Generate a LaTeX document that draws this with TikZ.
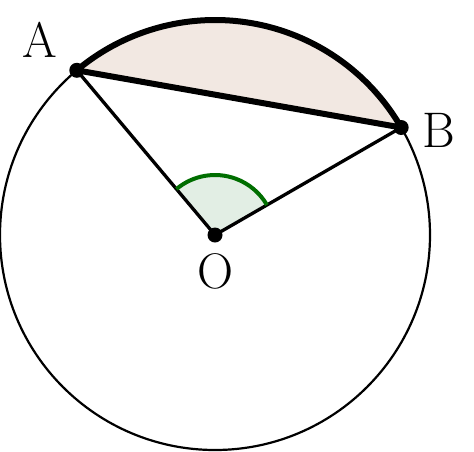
\documentclass[tikz,border=0pt]{standalone}
\usetikzlibrary{calc}
\definecolor{segfill}{RGB}{242,232,226}
\definecolor{secfill}{RGB}{226,238,228}
\definecolor{arcgreen}{RGB}{0,110,0}
\begin{document}
\begin{tikzpicture}[x=1pt,y=-1pt,
  dot/.style={circle,fill=black,inner sep=0pt,minimum size=15pt},
  lab/.style={font=\fontsize{50}{56}\selectfont}]
\useasboundingbox (0,0) rectangle (474,451);
\coordinate (O) at (215,235);
\def\R{215}
\coordinate (A) at ($(O)+(130:\R pt)$);
\coordinate (B) at ($(O)+(30:\R pt)$);
% segment fill
\fill[segfill] (A) arc[start angle=130,end angle=30,radius=\R pt] -- cycle;
% sector fill
\fill[secfill] (O) -- ($(O)+(130:60pt)$) arc[start angle=130,end angle=30,radius=60pt] -- cycle;
% circle
\draw[line width=2.2pt] (O) circle[radius=\R pt];
% radii
\draw[line width=3.3pt] (O) -- (A);
\draw[line width=3.3pt] (O) -- (B);
% chord and arc
\draw[line width=6pt] (A) -- (B);
\draw[line width=6pt] (A) arc[start angle=130,end angle=30,radius=\R pt];
% angle arc
\draw[arcgreen,line width=4pt] ($(O)+(130:60pt)$) arc[start angle=130,end angle=30,radius=60pt];
% dots
\node[dot] (nA) at (A) {};
\node[dot] (nB) at (B) {};
\node[dot] (nO) at (O) {};
% labels
\node[lab] (tA) at (40,40) {A};
\node[lab] (tB) at (439,130) {B};
\node[lab] (tO) at (215,271) {O};
\end{tikzpicture}
\end{document}
